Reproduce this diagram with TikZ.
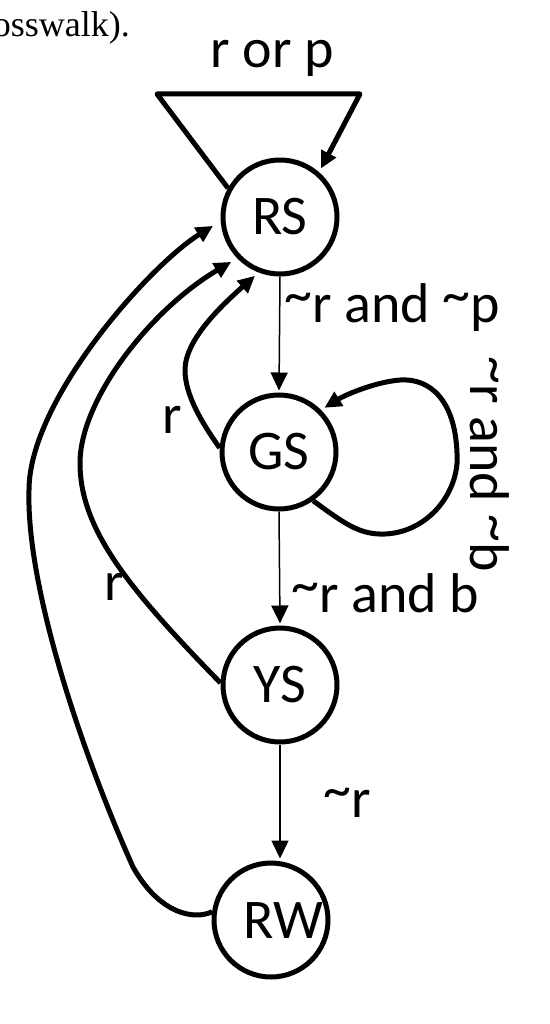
\documentclass[tikz,border=0pt]{standalone}
\usepackage{fontspec}
\setmainfont{Carlito}
\newfontfamily\serifbody{Liberation Serif}
\usetikzlibrary{arrows.meta}
\newcommand\mytilde{\raisebox{0.16em}{\textasciitilde}}
\tikzset{
  state/.style={circle, draw, line width=5pt, minimum size=114pt, inner sep=0pt, font=\fontsize{56}{60}\selectfont},
  lbl/.style={inner sep=0pt, font=\fontsize{56}{60}\selectfont},
  thickarrow/.style={line width=5pt, line join=round, -{Triangle[length=17pt,width=16pt]}},
  thinarrow/.style={line width=1.5pt, -{Triangle[length=18pt,width=17pt]}, shorten >=2pt},
}
\begin{document}
\begin{tikzpicture}[x=1pt,y=-1pt]
\useasboundingbox (0,0) rectangle (549,1024);
\fill[white] (0,0) rectangle (549,1024);

\node[state] (RS) at (280,217) {RS};
\node[state] (GS) at (279,452) {GS};
\node[state] (YS) at (280,685) {YS};
\node[state] (RW) at (271,920) {};
\node[lbl] (RWt) at (283,921) {RW};

\coordinate (c1) at (157,94);
\coordinate (c2) at (360,94);

% straight downward transitions
\draw[thinarrow] (RS.south) -- (GS.north);
\draw[thinarrow] (GS.south) -- (YS.north);
\draw[thinarrow] (YS.south) -- (YS.south |- RW.north);

% self loop on RS
\draw[thickarrow, shorten >=4pt] (RS.151) -- (c1) -- (c2) -- (RS.49);

% self loop on GS
\draw[thickarrow, shorten >=4pt] (GS.305) .. controls (345,524) and (360,535) .. (385,534)
  .. controls (430,532) and (460,490) .. (457,453)
  .. controls (455,400) and (430,378) .. (400,380)
  .. controls (375,382) and (345,395) .. (GS.45);

% GS -> RS
\draw[thickarrow, shorten >=5pt] (GS.176) .. controls (202,423) and (185,395) .. (185,370)
  .. controls (185,340) and (221,306) .. (RS.249);

% YS -> RS
\draw[thickarrow, shorten >=7pt] (YS.178) .. controls (130,590) and (80,530) .. (80,463)
  .. controls (80,400) and (150,310) .. (RS.224);

% RW -> RS
\draw[thickarrow, shorten >=9pt] (RW.172) .. controls (195,920) and (160,915) .. (133,867)
  .. controls (85,760) and (26,590) .. (29,490)
  .. controls (29,400) and (150,265) .. (RS.184);

% labels
\node[lbl, anchor=base] (lrp) at (272,68) {r or p};
\node[lbl, anchor=base west] (l1) at (284,322) {\mytilde r and \mytilde p};
\node[lbl, anchor=base west] (l2) at (291,612) {\mytilde r and b};
\node[lbl, anchor=base west] (l3) at (323,817) {\mytilde r};
\node[lbl, anchor=base west] (l4) at (162,433) {r};
\node[lbl, anchor=base west] (l5) at (104,600) {r};
\node[lbl, rotate=-90, anchor=base west] (l6) at (470,356) {\mytilde r and \mytilde b};
\node[font=\serifbody\fontsize{36}{40}\selectfont, inner sep=0pt, anchor=base east] (top) at (130,37) {osswalk).};
\end{tikzpicture}
\end{document}
